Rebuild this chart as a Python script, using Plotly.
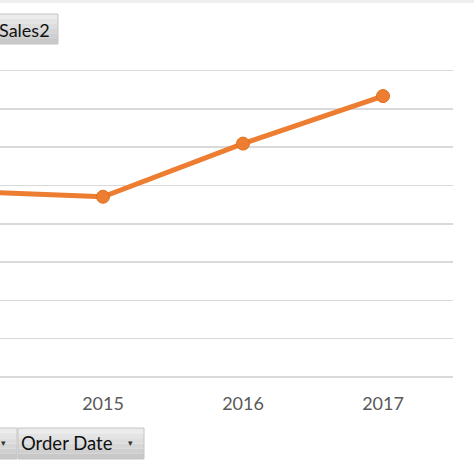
import plotly.graph_objects as go

years = [2014, 2015, 2016, 2017]
sales = [484247, 470533, 609206, 733215]
tick_years = [2015, 2016, 2017]
tick_labels = ["2015", "2016", "2017"]

W, H = 474, 474
# plot area in pixels (slightly padded so edge gridlines are drawn)
PL, PR, PT, PB = 0, 453, 67, 380
Y0_PX, YTOP_PX = 377.0, 70.5   # pixel rows of 0 and 800000
per_px = 800000 / (Y0_PX - YTOP_PX)
y_lo = -(PB - Y0_PX) * per_px
y_hi = 800000 + (YTOP_PX - PT) * per_px

def px(x):
    return (x - PL) / (PR - PL)

def py(y):
    return (PB - y) / (PB - PT)

fig = go.Figure()
fig.add_trace(go.Scatter(
    x=years, y=sales, mode="lines+markers",
    line=dict(color="#ED7D31", width=5),
    marker=dict(color="#ED7D31", size=13, line=dict(color="#E07020", width=1)),
    hoverinfo="skip", showlegend=False,
))

shapes = []
shapes.append(dict(type="rect", xref="paper", yref="paper",
                   x0=px(-5), x1=px(480), y0=py(3), y1=py(-5),
                   fillcolor="#eeeeee", line=dict(width=0), layer="above"))

def button(x0, y0, x1, y1):
    n = 6
    top = (236, 236, 236)
    bot = (200, 200, 200)
    for i in range(n):
        t = i / (n - 1)
        c = tuple(int(top[k] + (bot[k] - top[k]) * t) for k in range(3))
        ya = y0 + (y1 - y0) * i / n
        yb = y0 + (y1 - y0) * (i + 1) / n
        shapes.append(dict(type="rect", xref="paper", yref="paper",
                           x0=px(x0), x1=px(x1), y0=py(yb), y1=py(ya),
                           fillcolor="rgb(%d,%d,%d)" % c, line=dict(width=0), layer="above"))
    shapes.append(dict(type="rect", xref="paper", yref="paper",
                       x0=px(x0), x1=px(x1), y0=py(y1), y1=py(y0),
                       fillcolor="rgba(0,0,0,0)", line=dict(color="#c4c4c4", width=1), layer="above"))

button(-3, 14, 58, 44)
button(-5, 428, 17, 459)
button(18, 428, 144, 459)

annotations = [
    dict(text="Sales2", x=px(-3), y=py(30), xref="paper", yref="paper",
         xanchor="left", yanchor="middle", showarrow=False,
         font=dict(family="Lato", size=18, color="#111111")),
    dict(text="Order Date", x=px(19), y=py(443), xref="paper", yref="paper",
         xanchor="left", yanchor="middle", showarrow=False,
         font=dict(family="Lato", size=18.5, color="#111111")),
    dict(text="▾", x=px(130), y=py(443), xref="paper", yref="paper",
         xanchor="center", yanchor="middle", showarrow=False,
         font=dict(family="DejaVu Sans", size=9, color="#333333")),
    dict(text="▾", x=px(3), y=py(443), xref="paper", yref="paper",
         xanchor="center", yanchor="middle", showarrow=False,
         font=dict(family="DejaVu Sans", size=9, color="#333333")),
]

fig.update_layout(
    width=W, height=H,
    margin=dict(l=PL, r=W - PR, t=PT, b=H - PB, pad=0),
    paper_bgcolor="white", plot_bgcolor="white",
    shapes=shapes, annotations=annotations,
    xaxis=dict(range=[2015 - 103 / 140, 2017.5], tickvals=tick_years, ticktext=tick_labels,
               showgrid=False, zeroline=False, showline=False, ticks="",
               ticklabelstandoff=11,
               tickfont=dict(family="Lato", size=18, color="#595959"), fixedrange=True),
    yaxis=dict(range=[y_lo, y_hi], tick0=0, dtick=100000, showticklabels=False,
               showgrid=True, gridcolor="#d9d9d9", gridwidth=1.5,
               zeroline=False, showline=False, fixedrange=True),
)

fig.write_html("out.html", config={"displayModeBar": False, "staticPlot": True},
               post_script="document.body.style.margin='0';document.body.style.overflow='hidden';")
